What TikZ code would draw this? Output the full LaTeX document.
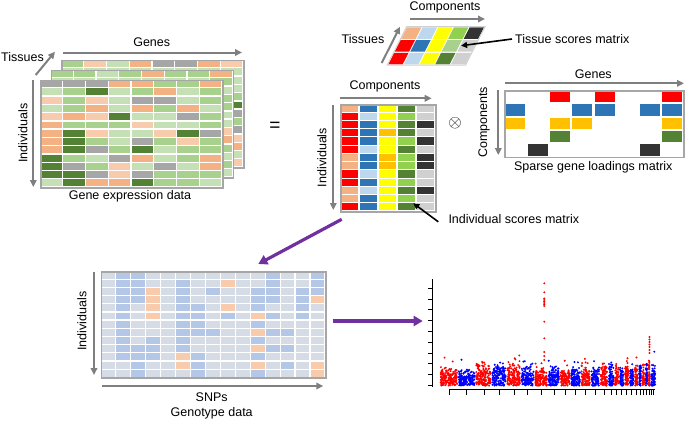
\documentclass[tikz,border=0pt]{standalone}
\usepackage{fontspec}
\setmainfont{Liberation Sans}
\usetikzlibrary{arrows.meta}
\definecolor{gA}{HTML}{C5E0B4}
\definecolor{gB}{HTML}{A9D18E}
\definecolor{gC}{HTML}{548235}
\definecolor{oA}{HTML}{F8CBAD}
\definecolor{oB}{HTML}{F4B183}
\definecolor{gy}{HTML}{A6A6A6}
\definecolor{rd}{HTML}{FF0000}
\definecolor{bl}{HTML}{2E75B6}
\definecolor{lb}{HTML}{BDD7EE}
\definecolor{yl}{HTML}{FFFF00}
\definecolor{yo}{HTML}{FFC000}
\definecolor{lg}{HTML}{92D050}
\definecolor{dg}{HTML}{548235}
\definecolor{lgy}{HTML}{D0D0D0}
\definecolor{dk}{HTML}{333333}
\definecolor{gn}{HTML}{D6DCE5}
\definecolor{gb}{HTML}{B4C7E7}
\definecolor{go}{HTML}{F8CBAD}
\definecolor{framegray}{HTML}{A6A6A6}
\definecolor{arrowgray}{HTML}{7F7F7F}
\definecolor{purp}{HTML}{7030A0}
\definecolor{mred}{HTML}{FF0000}
\definecolor{mblue}{HTML}{0000FF}
\newcommand\gelayer[3]{%
  \fill[white] (#1,#2) rectangle ({#1+182},{#2+107.5});
  \foreach \row [count=\i] in {#3} {
    \foreach \c [count=\j] in \row {
      \fill[\c] ({#1+(\j-1)*22.75+0.7},{#2+(\i-1)*8.27+0.7}) rectangle ({#1+\j*22.75-0.7},{#2+\i*8.27-0.7});
    }
  }
}
\begin{document}
\begin{tikzpicture}[x=1pt,y=-1pt,
  garrow/.style={draw=arrowgray,line width=2pt,-{Triangle[length=7pt,width=6.5pt]}},
  parrow/.style={draw=purp,line width=3.2pt,-{Triangle[length=9pt,width=10pt]}},
  barrow/.style={draw=black,line width=1.6pt,-{Triangle[length=6pt,width=6pt]}},
  lbl/.style={font=\fontsize{12.5}{14}\selectfont,inner sep=0pt},
  frame/.style={draw=framegray,line width=1.6pt,inner sep=0pt,anchor=north west},
]
\useasboundingbox (0,0) rectangle (685,421);

% ---------------- Gene expression data ----------------
\gelayer{61}{59.5}{{gB,oA,gA,oB,gy,gy,oB,oA},{gA,gA,gA,gA,gA,gA,gA,gA},{gA,gA,gA,gA,gA,gA,gA,gA},{gA,gA,gA,gA,gA,gA,gA,gA},{gA,gA,gA,gA,gA,gA,gA,gB},{gA,gA,gA,gA,gA,gA,gA,gC},{gA,gA,gA,gA,gA,gA,gA,gy},{gA,gA,gA,gA,gA,gA,gA,gB},{gA,gA,gA,gA,gA,gA,gA,gy},{gA,gA,gA,gA,gA,gA,gA,oA},{gA,gA,gA,gA,gA,gA,gA,oB},{gA,gA,gA,gA,gA,gA,gA,gA},{gA,gA,gA,gA,gA,gA,gA,oA}}
\node[frame,minimum width=182pt,minimum height=107.5pt] (geback) at (61,59.5) {};
\gelayer{50.5}{69.5}{{gB,gB,gA,gB,oB,gB,gB,oB},{gA,gA,gA,gA,gA,gA,gA,gB},{gA,gA,gA,gA,gA,gA,gA,gA},{gA,gA,gA,gA,gA,gA,gA,gB},{gA,gA,gA,gA,gA,gA,gA,gB},{gA,gA,gA,gA,gA,gA,gA,gA},{gA,gA,gA,gA,gA,gA,gA,gA},{gA,gA,gA,gA,gA,gA,gA,oA},{gA,gA,gA,gA,gA,gA,gA,oB},{gA,gA,gA,gA,gA,gA,gA,gB},{gA,gA,gA,gA,gA,gA,gA,gA},{gA,gA,gA,gA,gA,gA,gA,gB},{gA,gA,gA,gA,gA,gA,gA,gA}}
\node[frame,minimum width=182pt,minimum height=107.5pt] (gemid) at (50.5,69.5) {};
\gelayer{40}{79.5}{{gy,gy,gy,oB,oB,gB,gB,oB},{gA,gB,gC,gA,gB,oB,gA,gB},{oA,gB,oA,gA,gy,gy,gA,gB},{gA,gB,oB,gA,oB,gB,oB,gA},{oA,oB,oA,gC,gA,gA,gy,gB},{oB,gB,gB,gB,oA,gA,gA,gB},{oB,gC,oA,gA,gA,oA,gC,gy},{oB,gC,gB,gA,gy,gB,oA,gB},{oB,gC,gy,gB,gC,gA,gB,gB},{gC,gB,gA,gy,oB,gA,gB,oB},{gC,gy,gB,oA,gA,gy,gA,oB},{gC,gC,gy,oA,gy,gB,gB,gB},{gA,gC,oB,oB,gC,gB,gB,gA}}
\node[frame,minimum width=182pt,minimum height=107.5pt] (gefront) at (40,79.5) {};

\node[lbl] (genesA) at (151.7,41.7) {Genes};
\node[lbl] (tissA) at (22.5,56.7) {Tissues};
\node[lbl,rotate=90] (indA) at (23,133) {Individuals};
\node[lbl] (gedata) at (130,196.7) {Gene expression data};
\coordinate (gA1) at (63,52.5);   \coordinate (gA2) at (242,52.5);
\coordinate (tA1) at (35.7,75);   \coordinate (tA2) at (55,51.7);
\coordinate (iA1) at (33.3,80);   \coordinate (iA2) at (33.3,187);
\draw[garrow] (gA1) -- (gA2);
\draw[garrow] (tA1) -- (tA2);
\draw[garrow] (iA1) -- (iA2);

\node[font=\fontsize{19}{19}\selectfont,inner sep=0pt] (eqsign) at (275,126.7) {=};

% ---------------- Tissue scores matrix ----------------
\begin{scope}[shift={(406.7,26.7)},xslant=0.507]
  \foreach \row [count=\i] in {{oB,lb,yl,lg,dk},{rd,bl,yl,gB,lgy},{rd,lb,yl,dg,lgy}} {
    \foreach \c [count=\j] in \row {
      \fill[\c] ({(\j-1)*15.66+0.6},{(\i-1)*12.77+0.6}) rectangle ({\j*15.66-0.6},{\i*12.77-0.6});
    }
  }
  \draw[draw=lgy,line width=1pt] (0,0) rectangle (78.3,38.3);
  \coordinate (tsm) at (64,19);
\end{scope}
\node[lbl] (compT) at (445,7) {Components};
\node[lbl] (tissT) at (363,39) {Tissues};
\coordinate (cT1) at (410,19);  \coordinate (cT2) at (485,19);
\coordinate (tT1) at (381.7,63); \coordinate (tT2) at (400,26.7);
\draw[garrow] (cT1) -- (cT2);
\draw[garrow] (tT1) -- (tT2);
\node[lbl,anchor=west] (tsmlabel) at (515,39) {Tissue scores matrix};
\draw[barrow] ([xshift=-3pt]tsmlabel.west) -- (tsm);

% ---------------- Individual scores matrix ----------------
\foreach \row [count=\i] in {{oB,bl,yl,dg,lgy},{rd,lb,yl,lg,lgy},{rd,bl,yl,dg,dk},{rd,bl,yo,dg,lgy},{rd,bl,yl,lg,dk},{rd,lb,yl,dg,lgy},{oB,bl,yo,lg,dk},{oB,bl,yo,lg,dk},{rd,lb,yl,dg,lgy},{rd,bl,yl,lg,lgy},{oB,lb,yl,dg,dk},{oB,bl,yl,lg,lgy},{rd,bl,yl,dg,lgy}} {
  \foreach \c [count=\j] in \row {
    \fill[\c] ({340+(\j-1)*19+0.8},{104+(\i-1)*8.23+0.5}) rectangle ({340+\j*19-0.8},{104+\i*8.23-0.5});
  }
}
\node[frame,minimum width=95pt,minimum height=107pt] (ism) at (340,104) {};
\node[lbl] (compI) at (385,86) {Components};
\node[lbl,rotate=90] (indI) at (322,157.5) {Individuals};
\coordinate (cI1) at (340,98.3);  \coordinate (cI2) at (431.7,98.3);
\coordinate (iI1) at (333.3,105); \coordinate (iI2) at (333.3,210);
\draw[garrow] (cI1) -- (cI2);
\draw[garrow] (iI1) -- (iI2);
\node[lbl,anchor=west] (ismlabel) at (448.3,219.3) {Individual scores matrix};
\coordinate (ismtgt) at (413.3,203.3);
\draw[barrow] ([xshift=-10pt,yshift=-2.5pt]ismlabel.west) -- (ismtgt);

\node[font=\fontsize{16}{16}\selectfont,inner sep=0pt] (otimes) at (455,123.3) {$\otimes$};

% ---------------- Sparse gene loadings matrix ----------------
\foreach \cc/\rr/\col in {1/2/bl,1/3/yo,2/5/dk,3/1/rd,3/3/yo,3/4/dg,4/2/bl,4/3/yo,5/1/rd,5/2/bl,7/2/bl,7/5/dk,8/1/rd,8/2/bl,8/3/yo,8/4/dg} {
  \fill[\col] ({504+(\cc-1)*22.41+1.2},{90+(\rr-1)*13.33+1}) rectangle ({504+\cc*22.41-1.2},{90+\rr*13.33-1});
}
\node[frame,minimum width=179.3pt,minimum height=66.7pt] (sgl) at (504,90) {};
\node[lbl] (genesS) at (593.3,74) {Genes};
\node[lbl,rotate=90] (compS) at (484,122.5) {Components};
\node[lbl] (sgllabel) at (593.3,167.3) {Sparse gene loadings matrix};
\coordinate (gS1) at (505,83.3);  \coordinate (gS2) at (684,83.3);
\coordinate (cS1) at (498.3,90);  \coordinate (cS2) at (498.3,155);
\draw[garrow] (gS1) -- (gS2);
\draw[garrow] (cS1) -- (cS2);

% ---------------- Genotype data ----------------
\foreach \row [count=\i] in {
 {gn,gb,gb,gn,gn,gn,gn,gn,gn,gn,gn,gb,gn,gn,gb},
 {gn,gb,gb,gn,gn,gb,gn,gn,go,gn,gn,gb,gn,gn,gb},
 {gn,gb,gb,go,gn,gb,gn,gb,gn,gn,gb,gb,gn,gb,gb},
 {gn,gb,gb,go,gn,gb,gn,gn,gn,gn,gb,gb,gn,gb,go},
 {gn,gb,gn,go,gn,gb,gb,gn,go,gn,gb,gn,gn,gb,gn},
 {gn,gb,gn,go,gn,gb,gb,gn,gb,gn,go,gb,gn,gb,gn},
 {gn,gb,gn,gn,gn,gb,gb,gn,gn,gn,gb,gn,gn,gn,gn},
 {gn,gb,gn,gn,gn,gb,gb,gb,gn,gn,go,gb,gb,gn,gn},
 {gn,gb,gn,gb,gn,gb,gn,gn,gn,gn,gb,gn,gn,gn,gn},
 {gn,gb,gb,gb,gn,gb,gn,gn,gn,gn,go,gb,gb,gn,gn},
 {gn,gb,gb,gb,gn,go,gb,gn,gn,gn,gb,gn,gn,gn,gn},
 {gn,gn,gb,gn,gn,go,gb,gn,gn,gn,go,gn,gb,gn,go},
 {gn,gn,gb,gn,gn,gn,gb,gn,gn,gn,gb,gn,gn,gn,go}} {
  \foreach \c [count=\j] in \row {
    \fill[\c] ({100.7+(\j-1)*14.95+0.6},{271+(\i-1)*8.18+0.6}) rectangle ({100.7+\j*14.95-0.6},{271+\i*8.18-0.6});
  }
}
\node[frame,minimum width=224.3pt,minimum height=106.3pt] (geno) at (100.7,271) {};
\node[lbl,rotate=90] (indG) at (82,321) {Individuals};
\node[lbl] (snps) at (211.7,396.7) {SNPs};
\node[lbl] (genolabel) at (211.7,413.3) {Genotype data};
\coordinate (iG1) at (94,271.7);  \coordinate (iG2) at (94,375);
\coordinate (sG1) at (101.7,386); \coordinate (sG2) at (323.3,386);
\draw[garrow] (iG1) -- (iG2);
\draw[garrow] (sG1) -- (sG2);

% ---------------- Purple arrows ----------------
\coordinate (p1s) at (341.7,219.3); \coordinate (p1e) at (258.3,264);
\coordinate (p2s) at (332.7,321);   \coordinate (p2e) at (422.7,321);
\draw[parrow] (p1s) -- (p1e);
\draw[parrow] (p2s) -- (p2e);

% ---------------- Manhattan plot ----------------
\coordinate (yax1) at (432.7,279.3); \coordinate (yax2) at (432.7,386.7);
\draw[line width=0.9pt] (yax1) -- (yax2);
\foreach \k in {0,...,9} { \draw[line width=0.9pt] (428,{288.3+\k*10.8}) -- (432.7,{288.3+\k*10.8}); }
\coordinate (xax1) at (449.3,389); \coordinate (xax2) at (654.5,389);
\draw[line width=0.9pt] (xax1) -- (xax2);
\foreach \t in {449.3,466.7,484,499,514,527.3,541.7,554,565.3,575.7,585.7,595.7,604,611.7,616.7,621.7,626.7,631.7,636.7,640,643.3,646.7,649.3,651.7,653.8} { \draw[line width=0.9pt] (\t,389) -- (\t,395); }
\pgfmathsetseed{4242}
\foreach \a/\b/\col in {440/458/mred,458/475.3/mblue,475.3/491.5/mred,491.5/506.5/mblue,506.5/520.7/mred,520.7/534.5/mblue,534.5/547.9/mred,547.9/559.7/mblue,559.7/570.5/mred,570.5/580.7/mblue,580.7/590.7/mred,590.7/599.9/mblue,599.9/607.9/mred,607.9/614.2/mblue,614.2/619.2/mred,619.2/624.2/mblue,624.2/629.2/mred,629.2/634.2/mblue,634.2/638.4/mred,638.4/641.7/mblue,641.7/645/mred,645/648/mblue,648/650.5/mred,650.5/656/mblue} {
  \pgfmathsetmacro\hm{17+9*rnd}
  \pgfmathtruncatemacro\N{9*(\b-\a)+10}
  \foreach \n in {1,...,\N} {
    \pgfmathsetmacro\px{\a+0.8+rnd*(\b-\a-1.6)}
    \pgfmathsetmacro\py{385.6-\hm*rnd*(0.45+0.55*rnd)}
    \fill[\col] (\px,\py) circle[radius=1.1pt];
  }
  \foreach \n in {1,...,7} {
    \pgfmathsetmacro\px{\a+0.8+rnd*(\b-\a-1.6)}
    \pgfmathsetmacro\py{385.6-\hm*0.7-16*rnd*rnd}
    \fill[\col] (\px,\py) circle[radius=1.1pt];
  }
}
\foreach \py in {283.3,292.3,298.5,300,301.5,303,304.5,306,321.7,338.3,352,356,360} { \fill[mred] (544.3,\py) circle[radius=1.1pt]; }
\foreach \py in {337,339.5,342,344.5,347,350,353} { \fill[mred] (649.5,\py) circle[radius=1.1pt]; }
\fill[mblue] (654.3,351.7) circle[radius=1.1pt];
\end{tikzpicture}
\end{document}
